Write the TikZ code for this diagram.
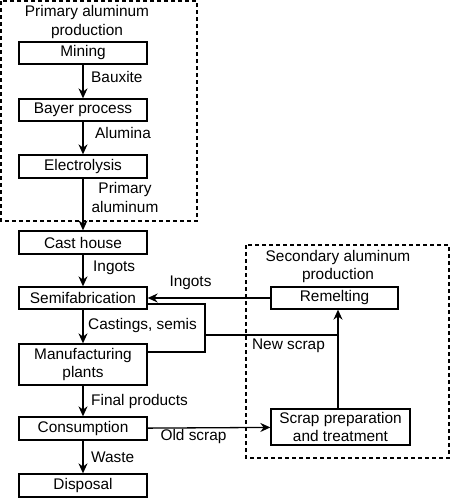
\documentclass[tikz,border=0pt]{standalone}
\usepackage{fontspec}
\setmainfont{Liberation Sans}
\usetikzlibrary{arrows.meta}
\begin{document}
\begin{tikzpicture}[x=1pt,y=-1pt,
  font=\fontsize{15.4}{18.5}\selectfont,
  box/.style={draw,line width=1.3pt,inner sep=0pt,minimum width=128pt,minimum height=22pt,align=center},
  frame/.style={draw,line width=1.3pt,dash pattern=on 4pt off 3pt},
  arr/.style={line width=1.3pt,-{Stealth[length=10pt,width=9pt]}},
  ln/.style={line width=1.3pt},
  lbl/.style={inner sep=0pt,anchor=west},
  ttl/.style={inner sep=0pt,align=center}]
\useasboundingbox (0,0) rectangle (450,498);
% frames
\draw[frame] (1,1) rectangle (197,221);
\draw[frame] (246,245) rectangle (449,458);
\node[ttl] (t1) at (87,22) {Primary aluminum\\production};
\node[ttl] (t2) at (338,266.5) {Secondary aluminum\\production};
% boxes
\node[box] (mining) at (83,53) {Mining};
\node[box] (bayer) at (83,110) {Bayer process};
\node[box,minimum height=23pt] (elec) at (83,166.5) {Electrolysis};
\node[box,minimum height=23pt] (cast) at (83,242.5) {Cast house};
\node[box] (semi) at (83,298) {Semifabrication};
\node[box,minimum height=41pt] (manuf) at (83,364.5) {Manufacturing\\plants};
\node[box,minimum height=23pt] (cons) at (83,428.5) {Consumption};
\node[box,minimum height=23pt] (disp) at (83,485.5) {Disposal};
\node[box,minimum width=127pt] (remelt) at (334.5,298) {Remelting};
\node[box,minimum width=139pt,minimum height=36pt] (scrap) at (340.5,427) {Scrap preparation\\and treatment};
% vertical arrows
\draw[arr] (mining) -- (bayer);
\draw[arr] (bayer) -- (elec);
\draw[arr] (elec) -- (cast);
\draw[arr] (cast) -- (semi);
\draw[arr] (semi) -- (manuf);
\draw[arr] (manuf) -- (cons);
\draw[arr] (cons) -- (disp);
% labels
\node[lbl] (lb1) at (91,77) {Bauxite};
\node[lbl] (lb2) at (95,133) {Alumina};
\node[ttl] (lb3) at (125,197.5) {Primary\\aluminum};
\node[lbl] (lb4) at (93,268) {Ingots};
\node[ttl] (lb5) at (190.5,283) {Ingots};
\node[ttl] (lb6) at (142.5,326) {Castings, semis};
\node[ttl] (lb7) at (288.5,346) {New scrap};
\node[lbl] (lb8) at (91,402) {Final products};
\node[ttl] (lb9) at (193.5,437) {Old scrap};
\node[lbl] (lb10) at (91,457) {Waste};
% secondary flows
\draw[arr] (remelt) -- (semi);
\draw[arr] (cons) -- (scrap);
\coordinate (j1) at (205,304);
\coordinate (j2) at (205,352);
\coordinate (j3) at (205,335);
\coordinate (m) at (338,335);
\draw[ln] ([yshift=-6pt]semi.east) -- (j1) -- (j2) -- ([yshift=12.5pt]manuf.east);
\draw[ln] (j3) -- (m);
\draw[arr] (scrap.north -| m) -- (remelt.south -| m);
\end{tikzpicture}
\end{document}
